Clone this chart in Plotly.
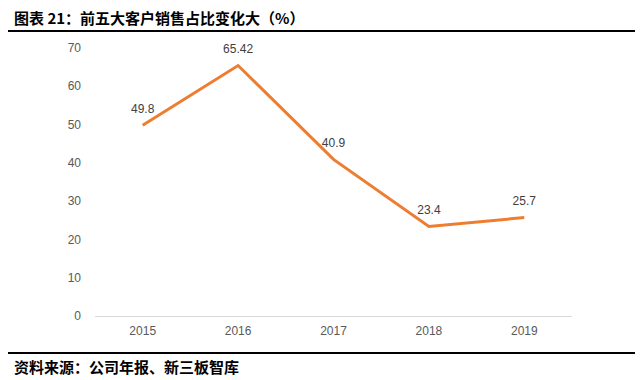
import plotly.graph_objects as go

years = ["2015", "2016", "2017", "2018", "2019"]
share = [49.8, 65.42, 40.9, 23.4, 25.7]
labels = ["49.8", "65.42", "40.9", "23.4", "25.7"]
y_ticks = [0, 10, 20, 30, 40, 50, 60, 70]

W, H = 641, 380
fig = go.Figure()
fig.add_trace(go.Scatter(
    x=years, y=share, mode="lines",
    line=dict(color="#ED7D31", width=3), cliponaxis=False, hoverinfo="skip",
))
# data labels above each point (invisible markers push the text up)
fig.add_trace(go.Scatter(
    x=years, y=share, mode="markers+text", text=labels, textposition="top center",
    marker=dict(size=13, color="rgba(0,0,0,0)"),
    textfont=dict(family="Liberation Sans, Arial", size=12, color="#404040"),
    cliponaxis=False, hoverinfo="skip",
))

fig.update_layout(
    width=W, height=H, margin=dict(l=0, r=0, t=0, b=0, autoexpand=False),
    plot_bgcolor="white", paper_bgcolor="white", showlegend=False,
    xaxis=dict(domain=[95 / W, 572 / W], type="category", range=[-0.5, 4.5], showgrid=False, showline=False,
               automargin=False, fixedrange=True,
               zeroline=False, ticks="", tickfont=dict(family="Liberation Sans, Arial", size=12, color="#595959"),
               ticklabelstandoff=6),
    yaxis=dict(domain=[1 - 316 / H, 1 - 48 / H], range=[0, 70], tickvals=y_ticks,
               automargin=False, fixedrange=True,
               showgrid=False, zeroline=True, zerolinecolor="#D9D9D9", zerolinewidth=1,
               showline=False, ticks="", tickfont=dict(family="Liberation Sans, Arial", size=12, color="#595959"),
               ticklabelstandoff=13),
    shapes=[
        dict(type="line", xref="paper", yref="paper", x0=8 / W, x1=635 / W, y0=1 - 31 / H, y1=1 - 31 / H,
             line=dict(color="black", width=2)),
        dict(type="line", xref="paper", yref="paper", x0=8 / W, x1=635 / W, y0=1 - 353 / H, y1=1 - 353 / H,
             line=dict(color="black", width=2)),
    ],
    annotations=[
        dict(xref="paper", yref="paper", x=12 / W, y=1 - 17 / H, xanchor="left", yanchor="middle",
             text="<b>图表 21：前五大客户销售占比变化大（%）</b>", showarrow=False,
             font=dict(family="Noto Sans CJK SC", size=15, color="black")),
        dict(xref="paper", yref="paper", x=12 / W, y=1 - 366 / H, xanchor="left", yanchor="middle",
             text="<b>资料来源：公司年报、新三板智库</b>", showarrow=False,
             font=dict(family="Noto Sans CJK SC", size=15, color="black")),
    ],
)
fig.write_html("out.html", config={"displayModeBar": False, "staticPlot": True},
               post_script="document.body.style.margin='0';document.body.style.overflow='hidden';")
